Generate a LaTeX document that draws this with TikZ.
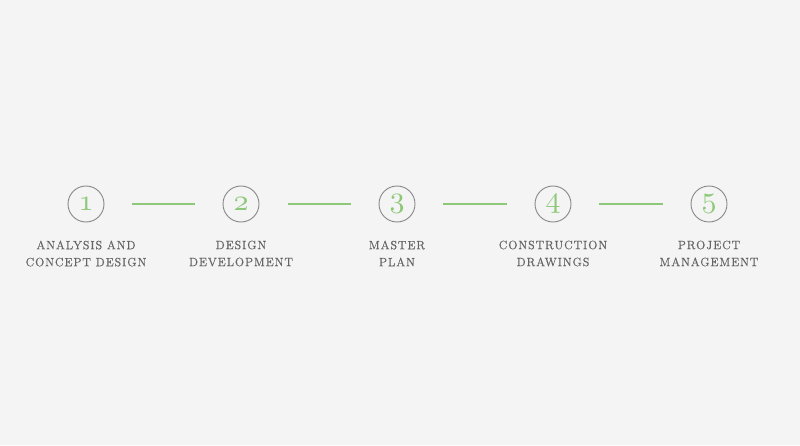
\documentclass[tikz,border=0pt]{standalone}
\usepackage{fontspec}
\usepackage{xcolor}
\usepackage{tikz}
\usetikzlibrary{positioning}
\newfontfamily\lblfont{Latin Modern Roman}[LetterSpace=8,FakeBold=0.6]
\font\osfont=cmmi10 at 30pt
\definecolor{bggray}{RGB}{244,244,244}
\definecolor{stepgreen}{RGB}{140,200,120}
\definecolor{ringgray}{RGB}{135,135,135}
\definecolor{textgray}{RGB}{100,100,100}
\tikzset{ring/.style={circle,draw=ringgray,line width=0.9pt,minimum size=36pt,inner sep=0pt,text=stepgreen,font=\osfont},
lbl/.style={align=center,text=textgray,font=\lblfont\fontsize{12}{17}\selectfont,inner sep=0pt},
link/.style={draw=stepgreen,line width=2.6pt}}

\begin{document}
\begin{tikzpicture}[x=1pt,y=1pt]
        \fill[bggray] (0,0) rectangle (800,445);
        \useasboundingbox (0,0) rectangle (800,445);
		\node[ring] (s1) at (86,241) {1};
        \node[ring] (s2) at (241,241) {2};
        \node[ring] (s3) at (397,241) {3};
        \node[ring] (s4) at (553,241) {4};
        \node[ring] (s5) at (709,241) {5};

        \node[lbl,below=18pt of s1] (l1) {ANALYSIS AND\\CONCEPT DESIGN};
        \node[lbl,below=18pt of s2] (l2) {DESIGN\\DEVELOPMENT};
        \node[lbl,below=18pt of s3] (l3) {MASTER\\PLAN};
        \node[lbl,below=18pt of s4] (l4) {CONSTRUCTION\\DRAWINGS};
        \node[lbl,below=18pt of s5] (l5) {PROJECT\\MANAGEMENT};

        \draw[link] ([xshift=28pt]s1.east) -- ([xshift=-28pt]s2.west);
        \draw[link] ([xshift=29pt]s2.east) -- ([xshift=-28pt]s3.west);
        \draw[link] ([xshift=28pt]s3.east) -- ([xshift=-28pt]s4.west);
        \draw[link] ([xshift=28pt]s4.east) -- ([xshift=-28pt]s5.west);
    \end{tikzpicture}
\end{document}
